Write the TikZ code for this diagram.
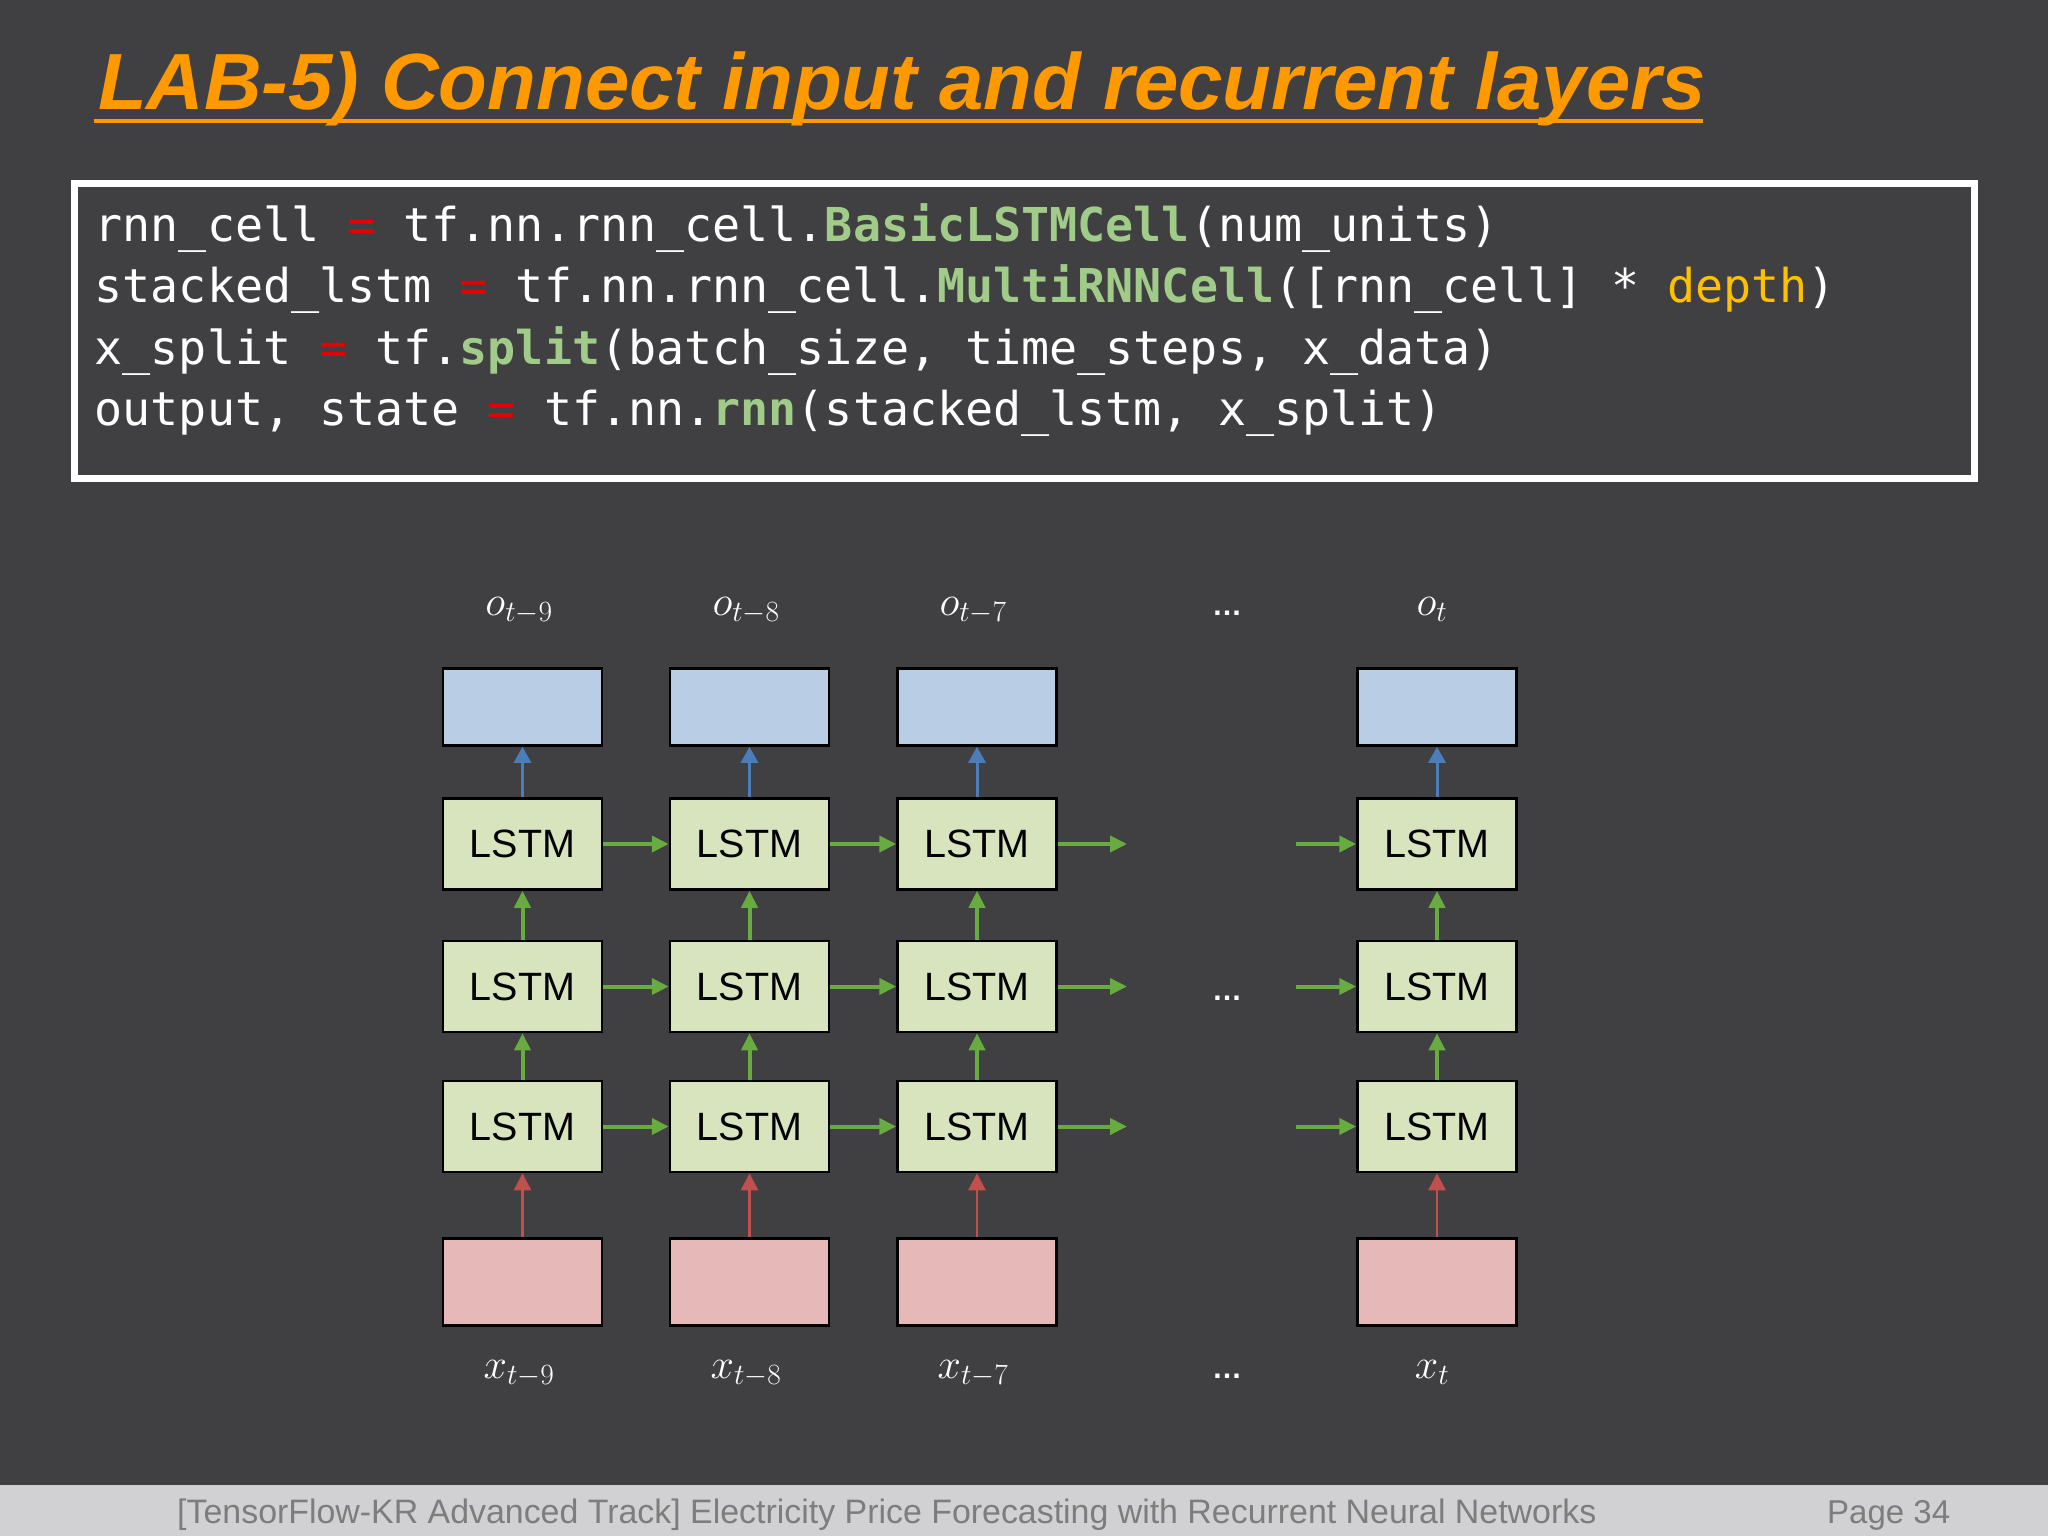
\documentclass[tikz,border=0pt]{standalone}
\usepackage{fix-cm}
\usepackage[no-math]{fontspec}
\setmainfont{Liberation Sans}
\newfontfamily\codefont{DejaVu Sans Mono}
\usetikzlibrary{arrows.meta}
\definecolor{bg}{RGB}{64,63,66}
\definecolor{titleor}{RGB}{255,153,0}
\definecolor{codered}{RGB}{232,0,0}
\definecolor{codegreen}{RGB}{160,203,136}
\definecolor{codeyellow}{RGB}{255,192,0}
\definecolor{outblue}{RGB}{185,205,229}
\definecolor{lstmgreen}{RGB}{216,228,190}
\definecolor{inpink}{RGB}{230,185,184}
\definecolor{arrgreen}{RGB}{104,171,64}
\definecolor{arrblue}{RGB}{74,126,187}
\definecolor{arrred}{RGB}{192,80,77}
\definecolor{footbg}{RGB}{209,209,211}
\definecolor{foottext}{RGB}{125,125,125}
\newcommand{\cR}[1]{\textcolor{codered}{#1}}
\newcommand{\cG}[1]{\textcolor{codegreen}{\bfseries #1}}
\newcommand{\cY}[1]{\textcolor{codeyellow}{#1}}
\tikzset{
  box/.style={draw=black, line width=2.5pt, inner sep=0pt, minimum width=159pt},
  outbox/.style={box, fill=outblue, minimum height=77pt},
  lstm/.style={box, fill=lstmgreen, minimum height=91pt, font=\fontsize{39.5}{46}\selectfont},
  inbox/.style={box, fill=inpink, minimum height=87pt},
  garrow/.style={arrgreen, line width=4pt, -{Triangle[length=17pt,width=16pt]}},
  barrow/.style={arrblue, line width=3pt, -{Triangle[length=16pt,width=17pt]}},
  rarrow/.style={arrred, line width=2.5pt, -{Triangle[length=17pt,width=17pt]}},
  mlabel/.style={text=white, anchor=base, inner sep=0pt, font=\fontsize{42}{50}\selectfont},
  dots/.style={text=white, anchor=base, inner sep=0pt, font=\fontsize{30}{36}\selectfont\bfseries},
  codeline/.style={text=white, anchor=base west, inner sep=0pt, font=\codefont\fontsize{46.65}{56}\selectfont},
  foot/.style={text=foottext, anchor=base west, inner sep=0pt, font=\fontsize{33}{40}\selectfont}
}
\begin{document}
\begin{tikzpicture}[x=1pt, y=-1pt]
\fill[bg] (0,0) rectangle (2048,1536);
\useasboundingbox (0,0) rectangle (2048,1536);
% title
\node[anchor=base west, inner sep=0pt, text=titleor, font=\fontsize{79.7}{96}\selectfont\bfseries\itshape] (title) at (98,110) {LAB-5) Connect input and recurrent layers};
\draw[titleor, line width=3.5pt] (94,121) -- (1703,121);
% code box
\draw[white, line width=7pt] (74,183) rectangle (1974,478);
\node[codeline] (c1) at (94.5,241) {rnn\_cell \cR{=} tf.nn.rnn\_cell.\cG{BasicLSTMCell}(num\_units)};
\node[codeline] (c2) at (94.5,302.5) {stacked\_lstm \cR{=} tf.nn.rnn\_cell.\cG{MultiRNNCell}([rnn\_cell] * \cY{depth})};
\node[codeline] (c3) at (94.5,364) {x\_split \cR{=} tf.\cG{split}(batch\_size, time\_steps, x\_data)};
\node[codeline] (c4) at (94.5,425.5) {output, state \cR{=} tf.nn.\cG{rnn}(stacked\_lstm, x\_split)};
% diagram columns
\foreach \c/\x in {1/522.5, 2/749.5, 3/977, 4/1437} {
  \node[outbox] (o\c) at (\x,707) {};
  \node[lstm] (a\c) at (\x,844) {LSTM};
  \node[lstm] (b\c) at (\x,986.5) {LSTM};
  \node[lstm] (d\c) at (\x,1126.5) {LSTM};
  \node[inbox] (i\c) at (\x,1282) {};
  \draw[barrow] (a\c) -- (o\c);
  \draw[garrow] (b\c) -- (a\c);
  \draw[garrow] (d\c) -- (b\c);
  \draw[rarrow] (i\c) -- (d\c);
}
% labels
\node[mlabel] (lo1) at (519,615) {$o_{t-9}$};
\node[mlabel] (lo2) at (746,615) {$o_{t-8}$};
\node[mlabel] (lo3) at (973,615) {$o_{t-7}$};
\node[mlabel] (lo4) at (1432,615) {$o_t$};
\node[mlabel] (lx1) at (519,1378) {$x_{t-9}$};
\node[mlabel] (lx2) at (746,1378) {$x_{t-8}$};
\node[mlabel] (lx3) at (973,1378) {$x_{t-7}$};
\node[mlabel] (lx4) at (1432,1378) {$x_t$};
\node[dots] (dt) at (1227,615) {\ldots};
\node[dots] (dm) at (1227,1000) {\ldots};
\node[dots] (db) at (1227,1378) {\ldots};
% horizontal recurrences
\foreach \r in {a,b,d} {
  \draw[garrow] (\r1) -- (\r2);
  \draw[garrow] (\r2) -- (\r3);
}
\coordinate (ea) at (1127,844);
\coordinate (eb) at (1127,986.5);
\coordinate (ed) at (1127,1126.5);
\coordinate (sa) at (1296,844);
\coordinate (sb) at (1296,986.5);
\coordinate (sd) at (1296,1126.5);
\draw[garrow] (a3) -- (ea);
\draw[garrow] (b3) -- (eb);
\draw[garrow] (d3) -- (ed);
\draw[garrow] (sa) -- (a4);
\draw[garrow] (sb) -- (b4);
\draw[garrow] (sd) -- (d4);
% footer
\fill[footbg] (0,1485) rectangle (2048,1536);
\node[foot, font=\fontsize{33.9}{40}\selectfont] (ft) at (177,1523) {[TensorFlow-KR Advanced Track] Electricity Price Forecasting with Recurrent Neural Networks};
\node[foot] (pg) at (1827,1523) {Page 34};
\end{tikzpicture}
\end{document}
